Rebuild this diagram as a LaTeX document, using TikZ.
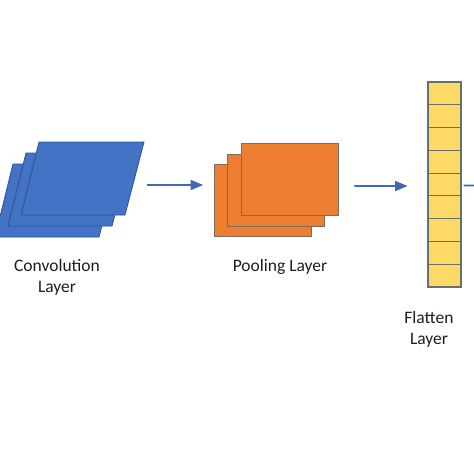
\documentclass[tikz,border=0pt]{standalone}
\usepackage{fontspec}
\setmainfont{Carlito}
\usepackage{xcolor}
\usepackage{tikz}
\usetikzlibrary{arrows}
\definecolor{convblue}{HTML}{4472C4}
\definecolor{convedge}{HTML}{2F528F}
\definecolor{flowblue}{HTML}{3F69B4}
\definecolor{poolorange}{HTML}{ED7D31}
\definecolor{pooledge}{HTML}{7F6A5E}
\definecolor{flatyellow}{HTML}{FFD966}
\definecolor{flatedge}{HTML}{68706E}
\definecolor{textgray}{HTML}{1E1E1E}
\tikzset{
  convmap/.style = {draw=convedge, fill=convblue, line width=0.8pt,
    line join=miter},% feature map
  poolmap/.style = {rectangle, draw=pooledge, fill=poolorange, line width=0.8pt,
    minimum width=97pt, minimum height=72pt, inner sep=0pt},% pooled map
  flatcell/.style = {rectangle, draw=flatedge, fill=flatyellow, line width=1.1pt,
    minimum width=33pt, minimum height=22.78pt, inner sep=0pt},% one unit
  layername/.style = {align=center, text=textgray, inner sep=0pt,
    font=\fontsize{17.5}{21}\selectfont},
  flow/.style = {->, >=triangle 45, draw=flowblue, line width=1.9pt}
}
\begin{document}
\begin{tikzpicture}[x=1pt,y=-1pt]
\clip (0,0) rectangle (474,474);
\fill[white] (0,0) rectangle (474,474);
% convolution stack, back to front
\foreach \dx/\dy in {-26/22, -13/11, 0/0}
  \filldraw [convmap, shift={(\dx,\dy)}] (21,215) -- (125,215) -- (144,142) -- (39,142) -- cycle;
\coordinate (conv1) at (134,185);
% pooling stack
\node [poolmap] (pool3) at (263,200.5) {};
\node [poolmap] (pool2) at (276,190) {};
\node [poolmap] (pool1) at (289.5,179) {};
% flatten column
\foreach \i in {1,...,9}
  \node [flatcell] (cell\i) at (444.5,{82+(\i-0.5)*22.78}) {};
\coordinate (out) at (490,185.5);
\draw [flow, shorten <=13pt] (conv1) -- ([xshift=-11pt,yshift=15.5pt]pool3.west);
\draw [flow] ([xshift=16pt,yshift=-7pt]pool1.east) -- ([xshift=-20pt,yshift=-1.5pt]cell5.west);
\draw [flow] ([xshift=2pt,yshift=-1pt]cell5.east) -- (out);
\node [layername] (convtext) at (57,277.5) {Convolution\\Layer};
\node [layername] (pooltext) at (280,267) {Pooling Layer};
\node [layername] (flattext) at (429,329.5) {Flatten\\Layer};
\end{tikzpicture}
\end{document}
